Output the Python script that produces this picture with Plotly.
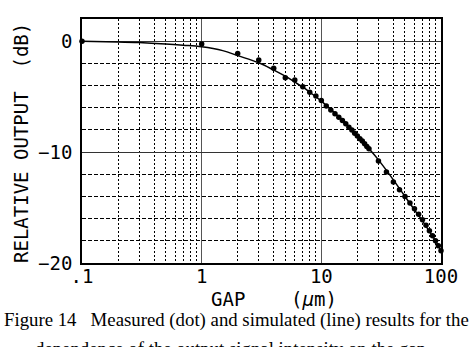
import plotly.graph_objects as go

# Measured relative output (dots) versus gap
meas_gap = [0.1, 1, 2, 3, 4, 5, 6, 7, 8, 9, 10,
            11, 12, 13, 14, 15, 16, 17, 18, 19, 20,
            21, 22, 23, 24, 25, 30, 35, 40, 45, 50,
            55, 60, 65, 70, 75, 80, 85, 90, 95, 100]
meas_db = [0.0, -0.25, -1.1, -1.7, -2.45, -3.3, -3.5, -4.1, -4.6, -4.95, -5.35,
           -5.85, -6.2, -6.55, -6.85, -7.15, -7.45, -7.75, -8.0, -8.3, -8.55,
           -8.8, -9.0, -9.25, -9.5, -9.7, -10.8, -11.8, -12.7, -13.4, -14.0,
           -14.6, -15.1, -15.6, -16.1, -16.6, -17.1, -17.55, -18.0, -18.45, -18.9]

# Simulated relative output (line)
sim_gap = [0.1, 0.2, 0.3, 0.5, 0.7, 1, 1.5, 2, 3, 4, 5, 6, 7, 8, 10,
           12, 15, 20, 25, 30, 40, 50, 60, 70, 80, 90, 100]
sim_db = [0.0, -0.07, -0.13, -0.25, -0.36, -0.5, -0.85, -1.3, -1.95, -2.6, -3.15,
          -3.7, -4.15, -4.6, -5.4, -6.15, -7.15, -8.55, -9.7, -10.7, -12.5,
          -14.0, -15.2, -16.2, -17.15, -18.0, -18.9]

x_tickvals = [0.1, 1, 10, 100]
x_ticktext = [".1", "1", "10", "100"]
y_tickvals = [0, -10, -20]
y_ticktext = ["0", "\u221210", "\u221220"]

W, H = 474, 347
L, R, T, B = 82, 33, 19, 84
PW, PH = W - L - R, H - T - B


def px_x(p):
    return (p - L) / PW


def px_y(p):
    return (T + PH - p) / PH


MONO = "DejaVu Sans Mono, Liberation Mono, monospace"
SERIF = "Liberation Serif, Times New Roman, serif"

fig = go.Figure()
fig.add_trace(go.Scatter(
    x=sim_gap, y=sim_db, mode="lines", line=dict(color="black", width=1.5, shape="spline"),
    showlegend=False, hoverinfo="skip"))
fig.add_trace(go.Scatter(
    x=meas_gap, y=meas_db, mode="markers", marker=dict(color="black", size=5.5),
    showlegend=False, cliponaxis=False))

fig.update_xaxes(
    type="log", range=[-1, 2],
    tickvals=x_tickvals, ticktext=x_ticktext, ticks="",
    tickfont=dict(family=MONO, size=19, color="black"),
    ticklabelstandoff=-5,
    showgrid=True, gridcolor="#555555", gridwidth=1,
    minor=dict(dtick="D1", showgrid=True, gridcolor="black", gridwidth=1, griddash="2px,2px"),
    showline=True, linecolor="black", linewidth=1.5, mirror=True, zeroline=False)
fig.update_yaxes(
    range=[-20, 2],
    tickvals=y_tickvals, ticktext=y_ticktext, ticks="",
    tickfont=dict(family=MONO, size=19, color="black"),
    showgrid=True, gridcolor="#333333", gridwidth=1,
    minor=dict(dtick=2, tick0=0, showgrid=True, gridcolor="black", gridwidth=1, griddash="4px,2px"),
    showline=True, linecolor="black", linewidth=1.5, mirror=True, zeroline=False,
    ticklabelstandoff=4)

nb = "\u00a0"
fig.update_layout(
    width=W, height=H, margin=dict(l=L, r=R, t=T, b=B),
    paper_bgcolor="white", plot_bgcolor="white",
    annotations=[
        dict(text="RELATIVE" + nb + "OUTPUT" + nb + nb + "(dB)", textangle=-90,
             xref="paper", yref="paper", x=px_x(21), y=px_y(143),
             xanchor="center", yanchor="middle", showarrow=False,
             font=dict(family=MONO, size=19, color="black")),
        dict(text="GAP" + nb * 4 + "(<i>\u03bc</i>m)",
             xref="paper", yref="paper", x=px_x(209), y=px_y(299),
             xanchor="left", yanchor="middle", showarrow=False,
             font=dict(family=MONO, size=19, color="black")),
        dict(text="Figure 14" + nb * 3 + "Measured (dot) and simulated (line) results for the",
             xref="paper", yref="paper", x=px_x(2), y=px_y(320),
             xanchor="left", yanchor="middle", showarrow=False,
             font=dict(family=SERIF, size=18.8, color="black")),
        dict(text="dependence of the output signal intensity on the gap.",
             xref="paper", yref="paper", x=px_x(33), y=px_y(348),
             xanchor="left", yanchor="middle", showarrow=False,
             font=dict(family=SERIF, size=18.8, color="black")),
    ])

fig.write_html("out.html")
